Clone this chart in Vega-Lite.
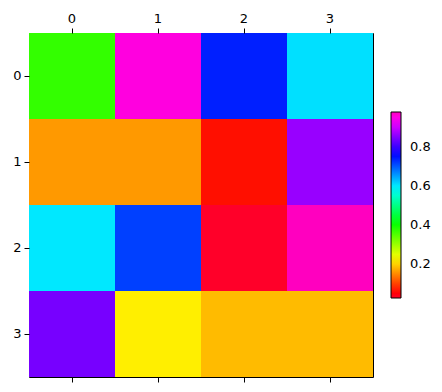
{
  "$schema": "https://vega.github.io/schema/vega-lite/v6.json",
  "autosize": "none",
  "padding": {"left": 29, "top": 33, "right": 69, "bottom": 15},
  "width": 344,
  "height": 344,
  "background": "white",
  "config": {
    "font": "DejaVu Sans",
    "view": {"stroke": "black", "strokeWidth": 1},
    "axis": {"labelFont": "DejaVu Sans", "labelFontSize": 13, "labelColor": "black", "tickColor": "black", "tickSize": 5, "domain": false, "grid": false, "title": null, "labelAngle": 0, "labelPadding": 3}
  },
  "data": {"values": [
    {"row": 0, "col": 0, "v": 0.372},
    {"row": 0, "col": 1, "v": 0.955},
    {"row": 0, "col": 2, "v": 0.738},
    {"row": 0, "col": 3, "v": 0.605},
    {"row": 1, "col": 0, "v": 0.161},
    {"row": 1, "col": 1, "v": 0.161},
    {"row": 1, "col": 2, "v": 0.066},
    {"row": 1, "col": 3, "v": 0.863},
    {"row": 2, "col": 0, "v": 0.6},
    {"row": 2, "col": 1, "v": 0.715},
    {"row": 2, "col": 2, "v": 0.027},
    {"row": 2, "col": 3, "v": 0.977},
    {"row": 3, "col": 0, "v": 0.84},
    {"row": 3, "col": 1, "v": 0.22},
    {"row": 3, "col": 2, "v": 0.184},
    {"row": 3, "col": 3, "v": 0.184}
  ]},
  "layer": [
    {
      "mark": {"type": "rect"},
      "encoding": {
        "x": {"field": "col", "type": "ordinal", "scale": {"paddingInner": 0, "paddingOuter": 0}, "axis": {"orient": "top"}},
        "y": {"field": "row", "type": "ordinal", "scale": {"paddingInner": 0, "paddingOuter": 0}, "axis": {"orient": "left"}},
        "color": {
          "field": "v", "type": "quantitative",
          "scale": {
            "domain": [0.027, 0.0555, 0.231, 0.407, 0.584, 0.759, 0.933, 0.977],
            "range": ["#ff0029", "#ff0000", "#ffff00", "#00ff00", "#00ffff", "#0000ff", "#ff00ff", "#ff00bf"],
            "interpolate": "rgb"
          },
          "legend": {
            "title": null,
            "orient": "none",
            "legendX": 362,
            "legendY": 79,
            "direction": "vertical",
            "gradientLength": 186,
            "gradientThickness": 10,
            "gradientStrokeColor": "black",
            "gradientStrokeWidth": 1,
            "values": [0.2, 0.4, 0.6, 0.8],
            "labelFont": "DejaVu Sans",
            "labelFontSize": 13,
            "labelColor": "black",
            "labelOffset": 9
          }
        }
      }
    },
    {
      "mark": {"type": "rect", "opacity": 0},
      "encoding": {
        "x": {"field": "col", "type": "ordinal", "scale": {"paddingInner": 0, "paddingOuter": 0}, "axis": {"orient": "bottom", "labels": false}}
      }
    }
  ],
  "resolve": {"axis": {"x": "independent"}}
}
